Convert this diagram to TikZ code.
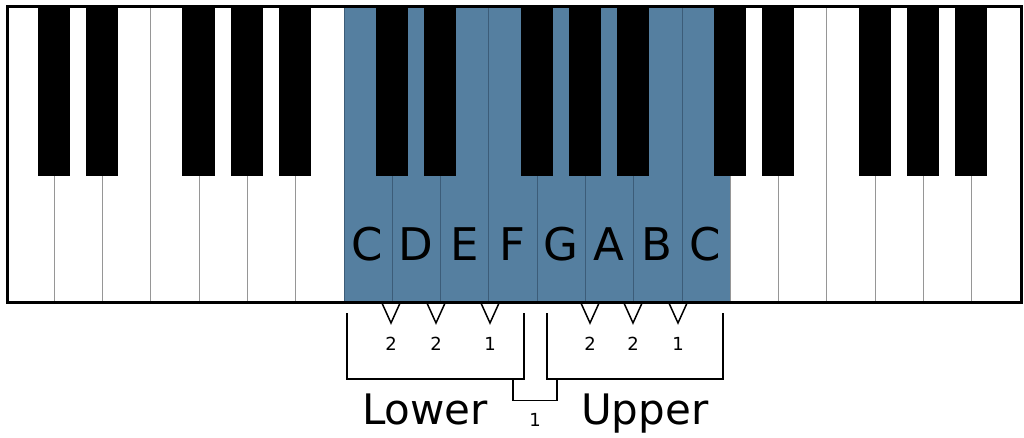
\documentclass[tikz,border=0pt]{standalone}
\usepackage{fontspec}
\setmainfont{DejaVu Sans}
\definecolor{keyblue}{RGB}{85,127,160}
\definecolor{bluesep}{RGB}{60,92,120}
\definecolor{whitesep}{RGB}{150,150,150}
\begin{document}
\begin{tikzpicture}[x=1pt,y=-1pt,
  whitekey/.style={rectangle,draw=whitesep,line width=1pt,fill=white,minimum width=48.286pt,minimum height=296pt,inner sep=0pt,anchor=north west},
  bluekey/.style={whitekey,fill=keyblue,draw=bluesep},
  blackkey/.style={rectangle,fill=black,draw=none,minimum width=32.3pt,minimum height=171.5pt,inner sep=0pt,anchor=north},
  notename/.style={font=\fontsize{45}{45}\selectfont,anchor=base,inner sep=0pt},
  stepnum/.style={font=\fontsize{18}{18}\selectfont,anchor=base,inner sep=0pt},
  wordlabel/.style={font=\fontsize{42}{42}\selectfont,anchor=base,inner sep=0pt},
  vmark/.style={line width=1.5pt,line join=miter},
  bracket/.style={line width=1.7pt,line join=miter}]
\useasboundingbox (0,0) rectangle (1024,437);
\fill[white] (0,0) rectangle (1024,437);
% white keys
\foreach \i in {0,...,20}{
  \pgfmathsetmacro{\xx}{5.5+\i*48.286}
  \ifnum\i<7
    \node[whitekey] (w\i) at (\xx,4.5) {};
  \else\ifnum\i>14
    \node[whitekey] (w\i) at (\xx,4.5) {};
  \else
    \node[bluekey] (w\i) at (\xx,4.5) {};
  \fi\fi
}
% black keys
\foreach \b in {1,2,4,5,6,8,9,11,12,13,15,16,18,19,20}{
  \pgfmathsetmacro{\xx}{5.5+\b*48.286}
  \node[blackkey] (b\b) at (\xx,4.5) {};
}
% frame
\node[rectangle,draw=black,line width=3pt,minimum width=1014pt,minimum height=296pt,inner sep=0pt,anchor=north west] (frame) at (5.5,4.5) {};
% note names
\foreach \i/\n in {7/C,8/D,9/E,10/F,11/G,12/A,13/B,14/C}{
  \pgfmathsetmacro{\xx}{5.5+\i*48.286+24.143}
  \node[notename] (n\i) at (\xx,260) {\n};
}
% step marks
\foreach \x/\d [count=\k] in {391/2,436/2,490/1,590/2,633/2,678/1}{
  \coordinate (tl\k) at (\x-9.5,302);
  \coordinate (tt\k) at (\x,323);
  \coordinate (tr\k) at (\x+9.5,302);
  \draw[vmark] (tl\k) -- (tt\k) -- (tr\k);
  \node[stepnum] (s\k) at (\x,350) {\d};
}
% brackets
\coordinate (la) at (346.7,313);
\coordinate (lb) at (346.7,379);
\coordinate (lc) at (524,379);
\coordinate (ld) at (524,313);
\draw[bracket] (la) -- (lb) -- (lc) -- (ld);
\coordinate (ua) at (546.7,313);
\coordinate (ub) at (546.7,379);
\coordinate (uc) at (722.7,379);
\coordinate (ud) at (722.7,313);
\draw[bracket] (ua) -- (ub) -- (uc) -- (ud);
\coordinate (ma) at (512.7,379);
\coordinate (mb) at (512.7,400.5);
\coordinate (mc) at (556.7,400.5);
\coordinate (md) at (556.7,379);
\draw[bracket] (ma) -- (mb) -- (mc) -- (md);
\node[stepnum] (mid) at (535,426.7) {1};
\node[wordlabel] (lower) at (425,424) {Lower};
\node[wordlabel] (upper) at (644.7,424) {Upper};
\end{tikzpicture}
\end{document}
